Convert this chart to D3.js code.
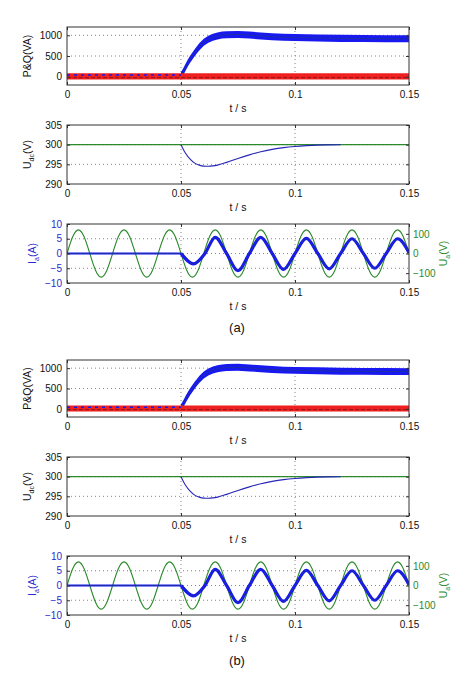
<!DOCTYPE html>
<html><head><meta charset="utf-8">
<script src="https://cdn.jsdelivr.net/npm/d3@7"></script>
<style>
html,body{margin:0;padding:0;background:#fff;}
svg{display:block;}
text{font-family:"Liberation Sans",Arial,sans-serif;}
</style></head>
<body>
<svg id="c" width="474" height="683"></svg>
<script>
// ---------------- data ----------------
const xTicks = [0, 0.05, 0.1, 0.15];
const xTickLabels = ["0", "0.05", "0.1", "0.15"];
const pqTicks = [0, 500, 1000];
const udcTicks = [290, 295, 300, 305];
const iaTicks = [-10, -5, 0, 5, 10];
const uaTicks = [-100, 0, 100];

// active power P (centre of noisy band), VA
const pTime = [0, 0.05, 0.051, 0.052, 0.053, 0.054, 0.055, 0.056, 0.057, 0.058, 0.06, 0.062, 0.064, 0.066, 0.068, 0.07, 0.075, 0.08, 0.085, 0.09, 0.095, 0.1, 0.11, 0.12, 0.13, 0.14, 0.15];
const pValue = [30, 30, 120, 230, 330, 420, 500, 580, 650, 720, 830, 905, 955, 985, 1005, 1015, 1020, 1005, 985, 965, 952, 945, 935, 925, 920, 918, 915];
const pNoise = 85;
// reactive power Q, VA
const qTime = [0, 0.05, 0.1, 0.15];
const qValue = [10, 10, 10, 10];
const qNoise = 75;

// DC link voltage
const udcRefTime = [0, 0.15];
const udcRefValue = [300, 300];
const udcTime = [0.05, 0.052, 0.054, 0.056, 0.058, 0.06, 0.062, 0.064, 0.066, 0.07, 0.075, 0.08, 0.085, 0.09, 0.095, 0.1, 0.105, 0.11, 0.115, 0.12];
const udcValue = [300, 297.8, 296.3, 295.3, 294.8, 294.55, 294.5, 294.6, 294.8, 295.5, 296.5, 297.4, 298.2, 298.8, 299.25, 299.55, 299.75, 299.88, 299.95, 300];

// phase current Ia (A)
const iaTime = [0, 0.05, 0.0555, 0.0605, 0.065, 0.07, 0.075, 0.08, 0.085, 0.09, 0.095, 0.1, 0.105, 0.11, 0.115, 0.12, 0.125, 0.13, 0.135, 0.14, 0.145, 0.15];
const iaValue = [0, 0, -3.5, 0, 5.5, 0, -5.8, 0, 5.5, 0, -5.4, 0, 5.1, 0, -5.2, 0, 5.0, 0, -5.0, 0, 5.0, 0.3];

// phase voltage Ua (V), sampled every 2.5 ms
const uaStep = 0.0025;
const uaValue = [0, 85, 120, 85, 0, -85, -120, -85, 0, 85, 120, 85, 0, -85, -120, -85, 0, 85, 120, 85, 0, -85, -120, -85,
  0, 85, 120, 85, 0, -85, -120, -85, 0, 85, 120, 85, 0, -85, -120, -85, 0, 85, 120, 85, 0, -85, -120, -85,
  0, 85, 120, 85, 0, -85, -120, -85, 0, 85, 120, 85, 0];

const captions = ["(a)", "(b)"];

// --------------- drawing ---------------
const svg = d3.select("#c");
const X0 = 67, X1 = 409;
const x = d3.scaleLinear().domain([0, 0.15]).range([X0, X1]);
const BLUE = "#1818f0", NAVY = "#1c3690", RED = "#f02020", DRED = "#a01818", GREEN = "#2b8a2b", AX = "#333";

let clipId = 0;
function frame(top, bottom, y, yTicks) {
  const g = svg.append("g");
  const id = "clip" + (clipId++);
  svg.append("clipPath").attr("id", id).append("rect")
    .attr("x", X0).attr("y", top).attr("width", X1 - X0).attr("height", bottom - top);
  const grid = g.append("g").attr("stroke", "#666").attr("stroke-width", 0.8).attr("stroke-dasharray", "1,3");
  xTicks.filter(t => t > 0 && t < 0.15).forEach(t => {
    grid.append("line").attr("x1", x(t)).attr("x2", x(t)).attr("y1", top).attr("y2", bottom);
  });
  const yd = y.domain();
  yTicks.filter(t => t > yd[0] && t < yd[1]).forEach(t => {
    grid.append("line").attr("x1", X0).attr("x2", X1).attr("y1", y(t)).attr("y2", y(t));
  });
  const plot = g.append("g").attr("clip-path", "url(#" + id + ")");
  return {g, plot};
}
function axes(g, top, bottom, y, yTicks, leftColor, y2, y2Ticks, rightColor) {
  const fs = "10px";
  const fmt = d => d < 0 ? "\u2212" + Math.abs(d) : d;
  const xb = g.append("g").attr("transform", `translate(0,${bottom})`)
    .call(d3.axisBottom(x).tickValues(xTicks).tickFormat((d, i) => xTickLabels[i]).tickSizeInner(-3).tickSizeOuter(0).tickPadding(6));
  g.append("g").attr("transform", `translate(0,${top})`)
    .call(d3.axisTop(x).tickValues(xTicks).tickFormat("").tickSizeInner(-3).tickSizeOuter(0));
  const yl = g.append("g").attr("transform", `translate(${X0},0)`)
    .call(d3.axisLeft(y).tickValues(yTicks).tickFormat(fmt).tickSizeInner(-3).tickSizeOuter(0).tickPadding(5));
  yl.selectAll("text").attr("fill", leftColor);
  if (y2) {
    const yr = g.append("g").attr("transform", `translate(${X1},0)`)
      .call(d3.axisRight(y2).tickValues(y2Ticks).tickFormat(fmt).tickSizeInner(-3).tickSizeOuter(0).tickPadding(4));
    yr.selectAll("text").attr("fill", rightColor);
  } else {
    g.append("g").attr("transform", `translate(${X1},0)`)
      .call(d3.axisRight(y).tickValues(yTicks).tickFormat("").tickSizeInner(-3).tickSizeOuter(0));
  }
  g.selectAll(".domain").remove();
  g.selectAll(".tick line").attr("stroke", AX);
  g.selectAll(".tick text").attr("font-size", fs).attr("font-family", "Liberation Sans, Arial, sans-serif");
  xb.selectAll("text").attr("fill", "#111");
  g.append("rect").attr("x", X0).attr("y", top).attr("width", X1 - X0).attr("height", bottom - top)
    .attr("fill", "none").attr("stroke", AX).attr("stroke-width", 1);
  g.append("text").attr("x", (X0 + X1) / 2).attr("y", bottom + 27).attr("text-anchor", "middle")
    .attr("font-size", "10.5px").attr("fill", "#111").text("t / s");
}
function ylabel(g, cx, cy, parts, color) {
  const t = g.append("text").attr("transform", `translate(${cx},${cy}) rotate(-90)`)
    .attr("text-anchor", "middle").attr("font-size", "10.5px").attr("fill", color);
  parts.forEach(p => {
    const s = t.append("tspan").text(p.t);
    if (p.sub) s.attr("font-size", "7px").attr("dy", 3);
    if (p.back) s.attr("dy", -3);
  });
}

function panelPQ(top, bottom) {
  const y = d3.scaleLinear().domain([-200, 1200]).range([bottom, top]);
  const {g, plot} = frame(top, bottom, y, pqTicks);
  const pd = pTime.map((t, i) => [t, pValue[i]]);
  const qd = qTime.map((t, i) => [t, qValue[i]]);
  const ln = d3.line().x(d => x(d[0])).y(d => y(d[1]));
  plot.append("path").datum(pd.filter(d => d[0] >= 0.05)).attr("fill", BLUE)
    .attr("d", d3.area().x(d => x(d[0])).y0(d => y(d[1] - pNoise)).y1(d => y(d[1] + pNoise)));
  plot.append("path").datum(pd.filter(d => d[0] >= 0.05)).attr("fill", "none").attr("stroke", NAVY).attr("stroke-width", 0.8)
    .attr("d", ln);
  plot.append("path").datum(qd).attr("fill", RED)
    .attr("d", d3.area().x(d => x(d[0])).y0(d => y(d[1] - qNoise)).y1(d => y(d[1] + qNoise)));
  plot.append("path").datum(qd).attr("fill", "none").attr("stroke", DRED).attr("stroke-width", 1.2).attr("stroke-dasharray", "4,2")
    .attr("d", ln.y(d => y(d[1] - 30)));
  // P noise visible above Q before the step
  plot.append("path").datum(pd.filter(d => d[0] <= 0.05)).attr("fill", "none").attr("stroke", BLUE).attr("stroke-width", 1.5)
    .attr("stroke-dasharray", "3,4").attr("d", d3.line().x(d => x(d[0])).y(d => y(d[1] + 10)));
  axes(g, top, bottom, y, pqTicks, "#111");
  ylabel(g, 31, (top + bottom) / 2, [{t: "P&Q(VA)"}], "#111");
}
function panelUdc(top, bottom) {
  const y = d3.scaleLinear().domain([290, 305]).range([bottom, top]);
  const {g, plot} = frame(top, bottom, y, udcTicks);
  const line = d3.line().x(d => x(d[0])).y(d => y(d[1]));
  plot.append("path").datum(udcRefTime.map((t, i) => [t, udcRefValue[i]])).attr("fill", "none")
    .attr("stroke", GREEN).attr("stroke-width", 1.1).attr("d", line);
  plot.append("path").datum(udcTime.map((t, i) => [t, udcValue[i]])).attr("fill", "none")
    .attr("stroke", "#2525b8").attr("stroke-width", 1.1).attr("d", line.curve(d3.curveMonotoneX));
  axes(g, top, bottom, y, udcTicks, "#111");
  ylabel(g, 31, (top + bottom) / 2, [{t: "U"}, {t: "dc", sub: true}, {t: "(V)", back: true}], "#111");
}
function panelIa(top, bottom) {
  const y = d3.scaleLinear().domain([-10, 10]).range([bottom, top]);
  const y2 = d3.scaleLinear().domain([-150, 150]).range([bottom, top]);
  const {g, plot} = frame(top, bottom, y, iaTicks);
  plot.append("path").datum(uaValue.map((v, i) => [i * uaStep, v])).attr("fill", "none")
    .attr("stroke", GREEN).attr("stroke-width", 1.1)
    .attr("d", d3.line().x(d => x(d[0])).y(d => y2(d[1])).curve(d3.curveNatural));
  const id = iaTime.map((t, i) => [t, iaValue[i]]);
  const il = d3.line().x(d => x(d[0])).y(d => y(d[1])).curve(d3.curveMonotoneX);
  plot.append("path").datum(id.filter(d => d[0] <= 0.05)).attr("fill", "none").attr("stroke", BLUE).attr("stroke-width", 2.2).attr("d", il);
  plot.append("path").datum(id.filter(d => d[0] >= 0.05)).attr("fill", "none").attr("stroke", BLUE).attr("stroke-width", 3.2).attr("d", il);
  plot.append("path").datum(id).attr("fill", "none").attr("stroke", NAVY).attr("stroke-width", 0.7).attr("d", il);
  axes(g, top, bottom, y, iaTicks, "#2a2ad0", y2, uaTicks, GREEN);
  ylabel(g, 36, (top + bottom) / 2, [{t: "I"}, {t: "a", sub: true}, {t: "(A)", back: true}], "#2a2ad0");
  ylabel(g, 447, (top + bottom) / 2, [{t: "U"}, {t: "a", sub: true}, {t: "(V)", back: true}], GREEN);
}

const layouts = [
  {pq: [27, 85], udc: [125, 184], ia: [224, 283], cap: 332},
  {pq: [360, 417], udc: [457, 516], ia: [556, 615], cap: 665}
];
layouts.forEach((L, k) => {
  panelPQ(L.pq[0], L.pq[1]);
  panelUdc(L.udc[0], L.udc[1]);
  panelIa(L.ia[0], L.ia[1]);
  svg.append("text").attr("x", 237).attr("y", L.cap).attr("text-anchor", "middle")
    .attr("font-family", "Liberation Serif, Times New Roman, serif").attr("font-size", "13px").attr("fill", "#111")
    .text(captions[k]);
});
</script>
</body></html>
